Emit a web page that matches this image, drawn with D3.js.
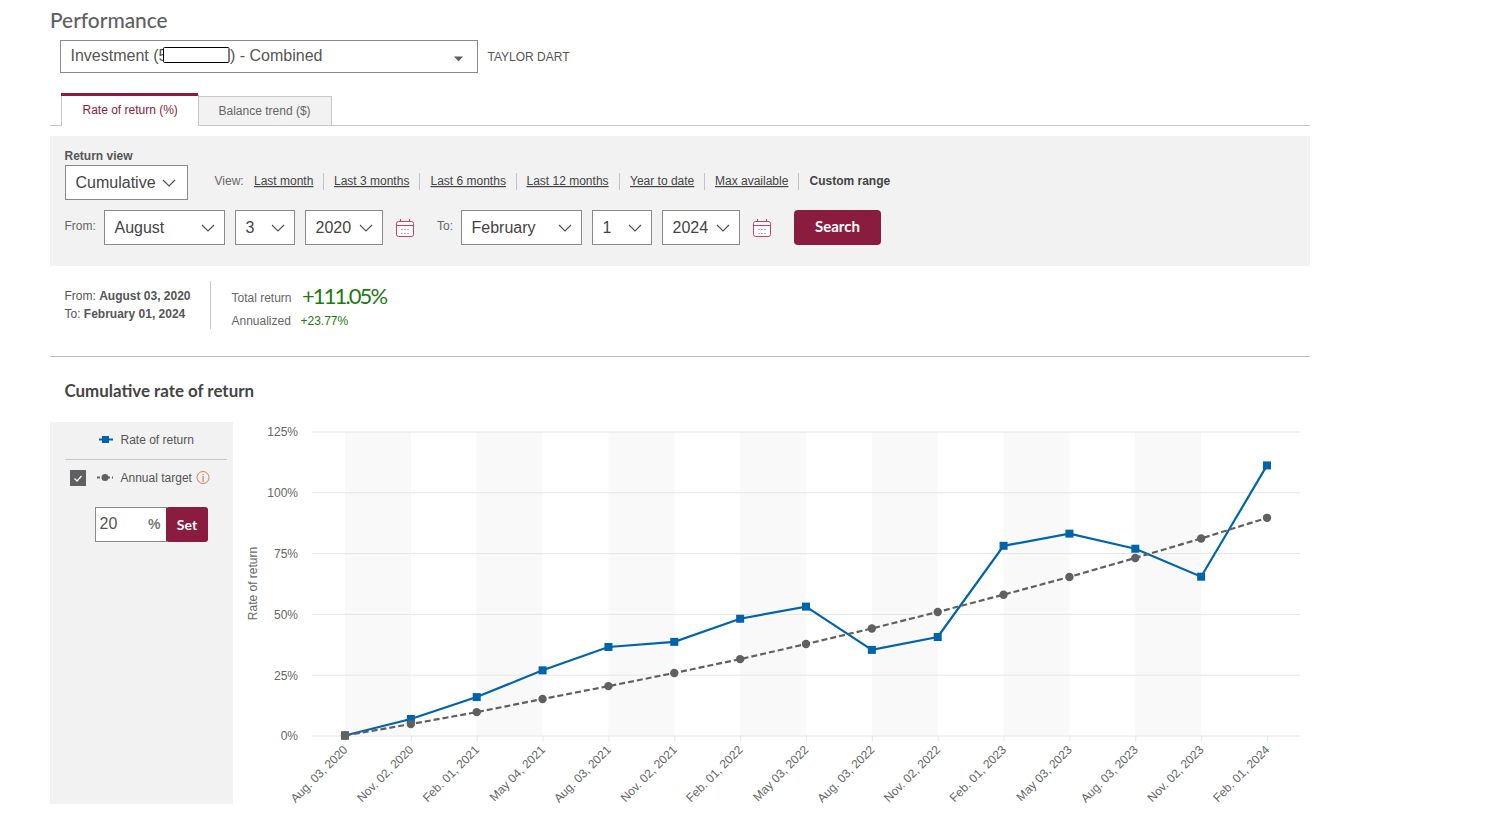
<!DOCTYPE html>
<html>
<head>
<meta charset="utf-8">
<title>Performance</title>
<script src="https://cdn.jsdelivr.net/npm/d3@7"></script>
<style>
  html, body { margin: 0; padding: 0; background: #fff; overflow: hidden; }
  svg { display: block; }
  text { font-family: "Liberation Sans", Arial, sans-serif; fill: #555; }
  .brand { font-family: Lato, "Open Sans", sans-serif; }
</style>
</head>
<body>
<svg id="page" width="1495" height="823"></svg>
<script>
// chart data
var dates = ["Aug. 03, 2020", "Nov. 02, 2020", "Feb. 01, 2021", "May 04, 2021", "Aug. 03, 2021",
  "Nov. 02, 2021", "Feb. 01, 2022", "May 03, 2022", "Aug. 03, 2022", "Nov. 02, 2022",
  "Feb. 01, 2023", "May 03, 2023", "Aug. 03, 2023", "Nov. 02, 2023", "Feb. 01, 2024"];
var rateOfReturn = [0, 6.8, 15.8, 26.8, 36.4, 38.5, 48, 53, 35.2, 40.5, 78, 83, 76.8, 65.3, 111.05];
var annualTarget = [0, 4.7, 9.6, 15, 20.3, 25.7, 31.4, 37.6, 44, 50.8, 57.9, 65.2, 73, 81, 89.5];
var yTicks = [0, 25, 50, 75, 100, 125];

var viewLinks = ["Last month", "Last 3 months", "Last 6 months", "Last 12 months", "Year to date", "Max available"];

var maroon = "#8a1c40";
var blue = "#0064aa";
var grey = "#5f6062";

var svg = d3.select("#page");

// small helpers for the page furniture
function label(x, y, str, size, color, weight, anchor) {
  return svg.append("text").attr("x", x).attr("y", y).text(str)
    .style("font-size", size + "px")
    .style("fill", color || "#555")
    .style("font-weight", weight || "normal")
    .attr("text-anchor", anchor || "start");
}
function box(x, y, w, h, fill, stroke, r) {
  return svg.append("rect").attr("x", x).attr("y", y).attr("width", w).attr("height", h)
    .attr("fill", fill).attr("stroke", stroke || "none").attr("rx", r || 0);
}
function hline(x1, x2, y, color) {
  svg.append("line").attr("x1", x1).attr("x2", x2).attr("y1", y).attr("y2", y).attr("stroke", color);
}
function vline(x, y1, y2, color) {
  svg.append("line").attr("x1", x).attr("x2", x).attr("y1", y1).attr("y2", y2).attr("stroke", color);
}
function chevron(x, y) {
  svg.append("path").attr("d", "M" + (x - 6) + "," + (y - 3) + "L" + x + "," + (y + 3) + "L" + (x + 6) + "," + (y - 3))
    .attr("fill", "none").attr("stroke", "#555").attr("stroke-width", 1.2);
}
function select(x, y, w, h, str, chevronGap) {
  box(x + 0.5, y + 0.5, w, h, "#fff", "#8a8a8a");
  label(x + 10.5, y + 23, str, 16, "#444");
  chevron(x + w - (chevronGap || 16), y + h / 2 + 1);
}
function calendar(x, y) {
  var c = "#c9415f";
  box(x + 0.5, y + 2.5, 17, 15, "#fff", c, 2);
  hline(x, x + 18, y + 6.5, c);
  vline(x + 4.5, y, y + 3, c);
  vline(x + 13.5, y, y + 3, c);
  [6, 9, 12].forEach(function (d) {
    [10, 14].forEach(function (e) {
      box(x + d - 0.5, y + e, 1, 1, c);
    });
  });
}

// header
label(50, 28, "Performance", 20.9, "#5f6062", "normal").attr("class", "brand").style("font-weight", 500);
box(60.5, 40.5, 417, 32, "#fff", "#8a8a8a");
label(70.5, 61, "Investment (5", 16, "#555");
box(163.5, 47.5, 65.5, 15, "#fff", "#000", 1);
label(230, 61, ") - Combined", 16, "#555");
svg.append("path").attr("d", "M454,56.5h9l-4.5,5z").attr("fill", "#5f6062");
label(487.5, 61, "TAYLOR DART", 12, "#555");

// tabs
hline(50, 1310, 125.5, "#c8c8c8");
box(198.5, 96.5, 133, 29, "#f2f2f2", "#c8c8c8");
box(61, 95, 137, 31, "#fff");
vline(61.5, 95, 126, "#c8c8c8");
vline(198.5, 95, 126, "#c8c8c8");
box(61, 93, 137, 3, maroon);
label(82.5, 114, "Rate of return (%)", 12, maroon);
label(218.5, 115, "Balance trend ($)", 12, "#666");

// filter panel
box(50, 136, 1260, 130, "#f2f2f2");
label(64.5, 160, "Return view", 12, "#555", "bold");
select(65, 165, 122, 34, "Cumulative", 18);
label(214.5, 185, "View:", 12, "#666");
var linkX = [254, 334, 430.5, 526.5, 630, 715];
viewLinks.forEach(function (d, i) {
  var t = label(linkX[i], 185, d, 12, "#444").style("text-decoration", "underline");
  var sepX = linkX[i] + t.node().getComputedTextLength() + 10;
  vline(Math.round(sepX) + 0.5, 173, 190, "#c4c4c4");
});
label(809.5, 185, "Custom range", 12, "#444", "bold");

label(64.5, 230, "From:", 12, "#666");
select(104, 210, 120, 34, "August");
select(235, 210, 59, 34, "3");
select(305, 210, 77, 34, "2020");
calendar(396, 219);
label(437, 230, "To:", 12, "#666");
select(461, 210, 120, 34, "February");
select(592, 210, 59, 34, "1");
select(662, 210, 77, 34, "2024");
calendar(753, 219);
box(794, 210, 87, 35, maroon, null, 4);
label(837.5, 232, "Search", 15, "#fff", "bold", "middle").attr("class", "brand");

// summary
label(64.5, 300, "From: ", 12, "#555").append("tspan").text("August 03, 2020").style("font-weight", "bold");
label(64.5, 318, "To: ", 12, "#555").append("tspan").text("February 01, 2024").style("font-weight", "bold");
vline(210.5, 281, 329, "#c8c8c8");
label(231.5, 302, "Total return", 12, "#666");
label(302, 304, "+111.05%", 22, "#1f7a12").attr("class", "brand").style("letter-spacing", "-1.9px");
label(231.5, 325, "Annualized", 12, "#666");
label(300.5, 325, "+23.77%", 12, "#1f7a12");
hline(50, 1310, 356.5, "#bdbdbd");

label(64.5, 397, "Cumulative rate of return", 16.9, "#444", "bold").attr("class", "brand");

// legend panel
box(50, 422, 183, 382, "#f2f2f2");
svg.append("line").attr("x1", 99).attr("x2", 113).attr("y1", 439.5).attr("y2", 439.5).attr("stroke", blue).attr("stroke-width", 2);
box(102, 436, 7, 7, blue);
label(120.5, 444, "Rate of return", 12, "#555");
hline(65, 227, 459.5, "#c8c8c8");
box(70, 470, 16, 16, grey);
svg.append("path").attr("d", "M74.5,478.5l2.5,2.5l4.5,-5").attr("fill", "none").attr("stroke", "#fff").attr("stroke-width", 1.3);
svg.append("line").attr("x1", 97).attr("x2", 113).attr("y1", 477.5).attr("y2", 477.5)
  .attr("stroke", grey).attr("stroke-width", 2).attr("stroke-dasharray", "3,2");
svg.append("circle").attr("cx", 105).attr("cy", 477.5).attr("r", 3.5).attr("fill", grey);
label(120.5, 482, "Annual target", 12, "#555");
svg.append("circle").attr("cx", 203).attr("cy", 477.5).attr("r", 6).attr("fill", "none").attr("stroke", "#d0805f");
label(203, 481.5, "i", 10, "#c8553d", "normal", "middle");
box(95.5, 507.5, 71, 34, "#fff", "#8a8a8a");
label(99.5, 529, "20", 16, "#555");
label(160.5, 529, "%", 14, "#777", "bold", "end");
box(166, 507, 42, 35, maroon, null, 3);
label(187, 530, "Set", 14, "#fff", "bold", "middle").attr("class", "brand");

// chart scales
var x = d3.scalePoint().domain(dates).range([345, 1267]);
var y = d3.scaleLinear().domain([0, 125]).range([735.5, 431.5]);

// alternate shaded bands between the date points
dates.forEach(function (d, i) {
  if (i % 2 == 0 && i < dates.length - 1) {
    svg.append("rect").attr("x", x(d)).attr("y", y(125))
      .attr("width", x(dates[i + 1]) - x(d)).attr("height", y(0) - y(125))
      .attr("fill", "#f9f9f9");
  }
});

// y axis
var yAxis = svg.append("g").attr("transform", "translate(312,0)")
  .call(d3.axisLeft(y).tickValues(yTicks).tickFormat(function (d) { return d + "%"; }).tickSize(-988).tickPadding(14));
yAxis.select(".domain").remove();
yAxis.selectAll("line").attr("stroke", "#e6e6e6");
yAxis.selectAll("text").style("font-size", "12px").style("fill", "#666").attr("dy", "0.37em");

// x axis
var xAxis = svg.append("g").attr("transform", "translate(0," + y(0) + ")")
  .call(d3.axisBottom(x).tickSize(6).tickSizeOuter(0));
xAxis.select(".domain").remove();
xAxis.selectAll("line").attr("stroke", "#e6e6e6");
xAxis.selectAll("text")
  .style("font-size", "12px").style("fill", "#666")
  .attr("text-anchor", "end")
  .attr("dx", "-8.6px").attr("dy", "3.6px")
  .attr("transform", "rotate(-45)");

svg.append("text").text("Rate of return")
  .attr("transform", "translate(257,583.5) rotate(-90)")
  .attr("text-anchor", "middle")
  .style("font-size", "12px").style("fill", "#666");

// lines
var line = d3.line().x(function (d, i) { return x(dates[i]); }).y(function (d) { return y(d); });

svg.append("path").datum(rateOfReturn).attr("d", line)
  .attr("fill", "none").attr("stroke", blue).attr("stroke-width", 2.2);
svg.selectAll(".rate").data(rateOfReturn).enter().append("rect").attr("class", "rate")
  .attr("x", function (d, i) { return x(dates[i]) - 4; })
  .attr("y", function (d) { return y(d) - 4; })
  .attr("width", 8).attr("height", 8).attr("fill", blue);

svg.append("path").datum(annualTarget).attr("d", line)
  .attr("fill", "none").attr("stroke", grey).attr("stroke-width", 2.2).attr("stroke-dasharray", "6,3");
svg.selectAll(".target").data(annualTarget).enter().append("circle").attr("class", "target")
  .attr("cx", function (d, i) { return x(dates[i]); })
  .attr("cy", function (d) { return y(d); })
  .attr("r", 4.2).attr("fill", grey);

// the first point is drawn square over the circle in the original
svg.append("rect").attr("x", x(dates[0]) - 4).attr("y", y(0) - 4).attr("width", 8).attr("height", 8).attr("fill", grey);
</script>
</body>
</html>
